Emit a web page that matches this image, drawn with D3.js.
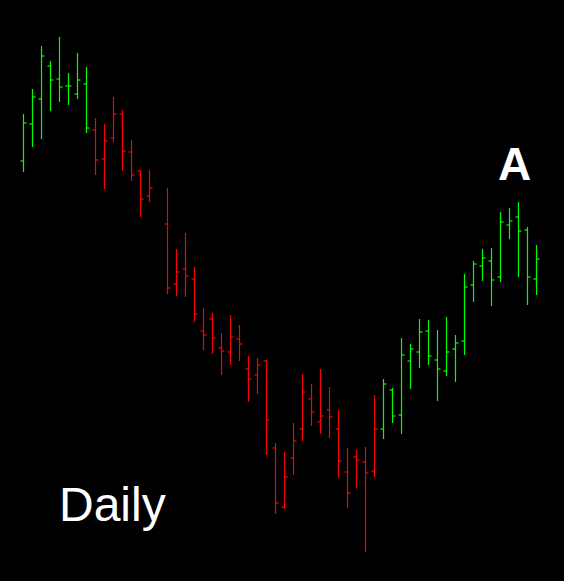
<!DOCTYPE html>
<html><head><meta charset="utf-8">
<script src="https://cdn.jsdelivr.net/npm/d3@7"></script>
<style>body{margin:0;background:#000;}</style>
</head><body>
<div id="chart"></div>
<script>
// bar slot index (slot 15 is an empty day)
var slots = [0,1,2,3,4,5,6,7,8,9,10,11,12,13,14,16,17,18,19,20,21,22,23,24,25,26,27,28,29,30,31,32,33,34,35,36,37,38,39,40,41,42,43,44,45,46,47,48,49,50,51,52,53,54,55,56,57];
var opens  = [439,476,501,534,521,514,506,516,470,441,462,486,448,429,404,376,316,331,321,269,281,252,248,261,231,225,239,152,93,142,171,201,178,190,171,128,143,138,129,171,210,185,239,248,269,240,229,251,259,315,334,339,323,375,383,370,321];
var highs  = [486,511,554,539,563,527,547,533,482,476,503,490,460,430,430,412,351,367,333,292,287,267,285,275,244,242,240,157,148,177,226,216,231,213,190,152,150,153,205,221,212,262,256,281,280,270,283,265,326,339,351,352,388,392,398,373,355];
var lows   = [428,453,461,489,498,495,501,467,425,411,458,429,419,383,398,306,304,303,278,250,246,225,235,239,198,206,145,86,91,125,159,174,166,162,122,92,112,48,123,161,177,166,211,232,235,199,224,218,245,298,319,294,318,361,323,295,305];
var closes = [477,503,544,520,513,514,520,472,440,459,486,449,425,401,412,312,328,324,286,265,262,249,263,256,221,235,180,97,123,159,208,188,184,183,139,107,140,127,171,216,184,245,251,268,244,231,248,257,313,336,342,320,378,379,369,323,341];
var colors = ["#00ff00","#00ff00","#00ff00","#00ff00","#00ff00","#00ff00","#00ff00","#00ff00",
  "#ff0000","#ff0000","#ff0000","#ff0000","#ff0000","#ff0000","#ff0000","#ff0000","#ff0000","#ff0000","#ff0000","#ff0000",
  "#ff0000","#ff0000","#ff0000","#ff0000","#ff0000","#ff0000","#ff0000","#ff0000","#ff0000","#ff0000","#ff0000","#ff0000",
  "#ff0000","#ff0000","#ff0000","#ff0000","#ff0000","#ff0000","#ff0000",
  "#00ff00","#00ff00","#00ff00","#00ff00","#00ff00","#00ff00","#00ff00","#00ff00","#00ff00","#00ff00",
  "#00ff00","#00ff00","#00ff00","#00ff00","#00ff00","#00ff00","#00ff00","#00ff00"];

var width = 564, height = 581;

var data = slots.map(function(s, i) {
  return {slot: s, o: opens[i], h: highs[i], l: lows[i], c: closes[i], color: colors[i]};
});

var x = d3.scaleLinear().domain([0, 57]).range([23.5, 536.5]);
var y = d3.scaleLinear().domain([0, 600]).range([600, 0]);

var svg = d3.select('#chart').append('svg')
            .attr('width', width).attr('height', height)
            .style('background', '#000');

var bars = svg.append('g').selectAll('g').data(data).enter().append('g')
              .attr('stroke', function(d){ return d.color; })
              .attr('stroke-width', 1.2);

bars.append('line')
    .attr('x1', function(d){ return x(d.slot); }).attr('x2', function(d){ return x(d.slot); })
    .attr('y1', function(d){ return y(d.h); }).attr('y2', function(d){ return y(d.l); });
bars.append('line')
    .attr('x1', function(d){ return x(d.slot) - 3; }).attr('x2', function(d){ return x(d.slot); })
    .attr('y1', function(d){ return y(d.o); }).attr('y2', function(d){ return y(d.o); });
bars.append('line')
    .attr('x1', function(d){ return x(d.slot); }).attr('x2', function(d){ return x(d.slot) + 3; })
    .attr('y1', function(d){ return y(d.c); }).attr('y2', function(d){ return y(d.c); });

svg.append('text').attr('x', 59).attr('y', 521)
   .attr('fill', '#fff').style('font-family', 'Liberation Sans, Arial, sans-serif')
   .style('font-size', '48px').text('Daily');
svg.append('text').attr('x', 498).attr('y', 180)
   .attr('fill', '#fff').style('font-family', 'Liberation Sans, Arial, sans-serif')
   .style('font-size', '46px').style('font-weight', 'bold').text('A');
</script>
</body></html>
